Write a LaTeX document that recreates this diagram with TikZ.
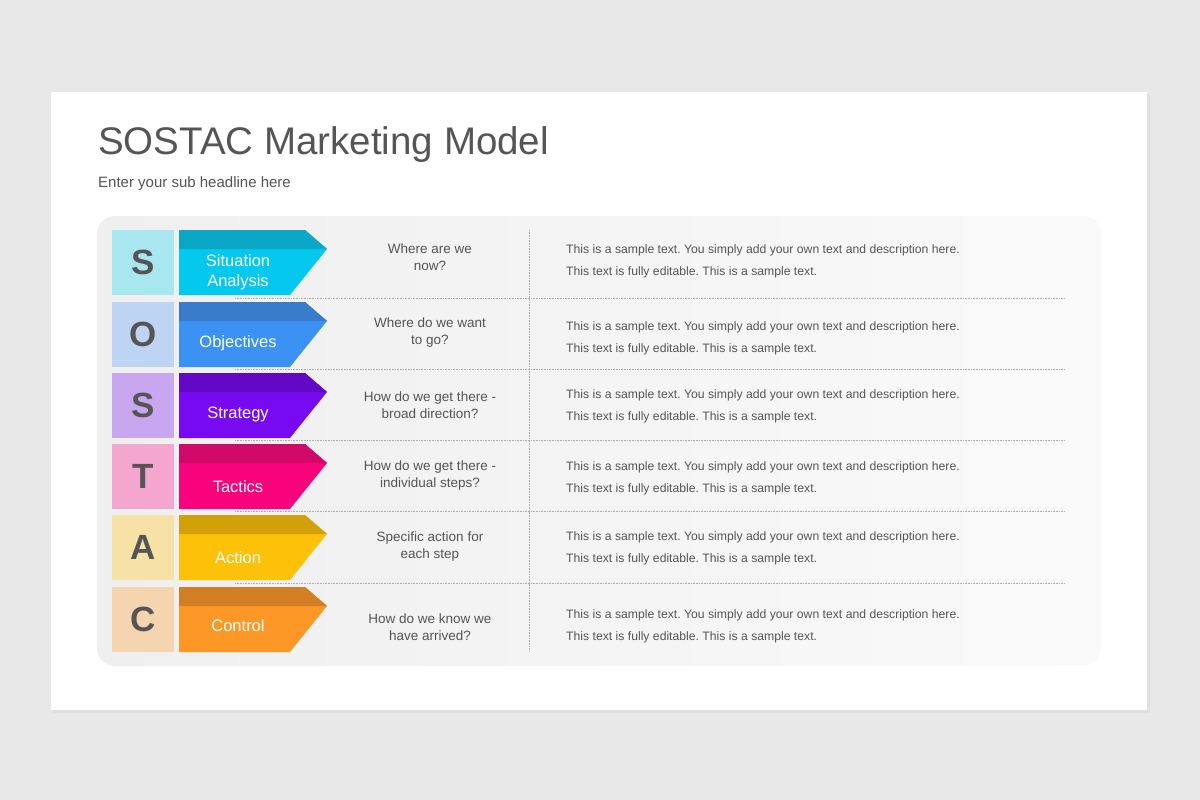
\documentclass[tikz,border=0pt]{standalone}
\usepackage{fontspec}
\setmainfont{Liberation Sans}
\usepackage{xcolor}
\frenchspacing
\definecolor{pagegrey}{HTML}{E9E8E9}
\definecolor{inkgrey}{HTML}{555555}
\definecolor{dotgrey}{HTML}{B0B0B0}
\definecolor{panelL}{HTML}{EFEFEF}
\definecolor{panelR}{HTML}{FAFAFA}
% letter box, arrow body, arrow band
\definecolor{sitbox}{HTML}{A8E6F0}\definecolor{sitbody}{HTML}{05C8EE}\definecolor{sitband}{HTML}{0AA7C6}
\definecolor{objbox}{HTML}{BDD5F2}\definecolor{objbody}{HTML}{3B92F2}\definecolor{objband}{HTML}{3A7CCC}
\definecolor{strbox}{HTML}{C8A7F0}\definecolor{strbody}{HTML}{780AF2}\definecolor{strband}{HTML}{6109C4}
\definecolor{tacbox}{HTML}{F4A6CE}\definecolor{tacbody}{HTML}{F8037C}\definecolor{tacband}{HTML}{D10A6A}
\definecolor{actbox}{HTML}{F6E2A6}\definecolor{actbody}{HTML}{FDC10A}\definecolor{actband}{HTML}{D2A109}
\definecolor{conbox}{HTML}{F5D4B0}\definecolor{conbody}{HTML}{FD9826}\definecolor{conband}{HTML}{D17F22}
\newcommand{\tagbody}[1]% top y
{(179,#1) -- (305,#1) -- (327,#1+19) -- (290,#1+65) -- (179,#1+65) -- cycle
}
\newcommand{\tagband}[1]% top y
{(179,#1) -- (305,#1) -- (327,#1+19) -- (179,#1+19) -- cycle
}
\tikzset{
  letterbox/.style={minimum width=62pt,minimum height=65pt,inner sep=0pt,
    text=inkgrey,font=\fontsize{35}{35}\selectfont\bfseries},
  taglabel/.style={text=white,align=center,inner sep=0pt,
    font=\fontsize{16.5}{20}\selectfont},
  question/.style={text=inkgrey,align=center,inner sep=0pt,
    font=\fontsize{13.5}{17}\selectfont},
  descr/.style={text=inkgrey,align=left,anchor=west,inner sep=0pt,
    font=\fontsize{12.2}{22}\selectfont},
  rowrule/.style={dotgrey,line width=0.8pt,dash pattern=on 0.8pt off 0.8pt}
}

\begin{document}
\begin{tikzpicture}[x=1pt,y=-1pt]
  \useasboundingbox (0,0) rectangle (1200,800);
  \fill[pagegrey] (0,0) rectangle (1200,800);
  \fill[black!12] (53,94) rectangle (1150,713);
  \fill[white] (51,92) rectangle (1147,710);

  \node[anchor=base west,inner sep=0pt,text=inkgrey,font=\fontsize{38.5}{40}\selectfont] (title) at (98,154) {SOSTAC Marketing Model};
  \node[anchor=base west,inner sep=0pt,text=inkgrey,font=\fontsize{15}{16}\selectfont] (subtitle) at (98,187) {Enter your sub headline here};

  \shade[left color=panelL,right color=panelR,rounded corners=18pt] (97,216) rectangle (1101,666);

  % dotted rules
  \coordinate (vtop) at (529,230);
  \coordinate (vbot) at (529,652);
  \draw[rowrule] (vtop) -- (vbot);
  \coordinate (r1a) at (235,298); \coordinate (r1b) at (1065,298);
  \coordinate (r2a) at (235,369); \coordinate (r2b) at (1065,369);
  \coordinate (r3a) at (235,440); \coordinate (r3b) at (1065,440);
  \coordinate (r4a) at (235,511); \coordinate (r4b) at (1065,511);
  \coordinate (r5a) at (235,583); \coordinate (r5b) at (1065,583);
  \draw[rowrule] (r1a) -- (r1b);
  \draw[rowrule] (r2a) -- (r2b);
  \draw[rowrule] (r3a) -- (r3b);
  \draw[rowrule] (r4a) -- (r4b);
  \draw[rowrule] (r5a) -- (r5b);

  % S
  \node[letterbox,fill=sitbox] (S) at (143,262.5) {S};
  \fill[sitbody] \tagbody{230};
  \fill[sitband] \tagband{230};
  \node[taglabel] (situation) at (238,272) {Situation\\Analysis};
  \node[question] (q1) at (430,257.5) {Where are we\\now?};
  \node[descr] (d1) at (566,261) {This is a sample text. You simply add your own text and description here.\\This text is fully editable. This is a sample text.};

  % O
  \node[letterbox,fill=objbox] (O) at (143,334.5) {O};
  \fill[objbody] \tagbody{302};
  \fill[objband] \tagband{302};
  \node[taglabel] (objectives) at (238,343) {Objectives};
  \node[question] (q2) at (430,332.5) {Where do we want\\to go?};
  \node[descr] (d2) at (566,338) {This is a sample text. You simply add your own text and description here.\\This text is fully editable. This is a sample text.};

  % S
  \node[letterbox,fill=strbox] (S2) at (143,405.5) {S};
  \fill[strbody] \tagbody{373};
  \fill[strband] \tagband{373};
  \node[taglabel] (strategy) at (238,414) {Strategy};
  \node[question] (q3) at (430,405) {How do we get there -\\broad direction?};
  \node[descr] (d3) at (566,406) {This is a sample text. You simply add your own text and description here.\\This text is fully editable. This is a sample text.};

  % T
  \node[letterbox,fill=tacbox] (T) at (143,476.5) {T};
  \fill[tacbody] \tagbody{444};
  \fill[tacband] \tagband{444};
  \node[taglabel] (tactics) at (238,487) {Tactics};
  \node[question] (q4) at (430,475.5) {How do we get there -\\individual steps?};
  \node[descr] (d4) at (566,478) {This is a sample text. You simply add your own text and description here.\\This text is fully editable. This is a sample text.};

  % A
  \node[letterbox,fill=actbox] (A) at (143,547.5) {A};
  \fill[actbody] \tagbody{515};
  \fill[actband] \tagband{515};
  \node[taglabel] (action) at (238,558) {Action};
  \node[question] (q5) at (430,546.5) {Specific action for\\each step};
  \node[descr] (d5) at (566,548) {This is a sample text. You simply add your own text and description here.\\This text is fully editable. This is a sample text.};

  % C
  \node[letterbox,fill=conbox] (C) at (143,619.5) {C};
  \fill[conbody] \tagbody{587};
  \fill[conband] \tagband{587};
  \node[taglabel] (control) at (238,626) {Control};
  \node[question] (q6) at (430,627) {How do we know we\\have arrived?};
  \node[descr] (d6) at (566,626) {This is a sample text. You simply add your own text and description here.\\This text is fully editable. This is a sample text.};
\end{tikzpicture}
\end{document}
